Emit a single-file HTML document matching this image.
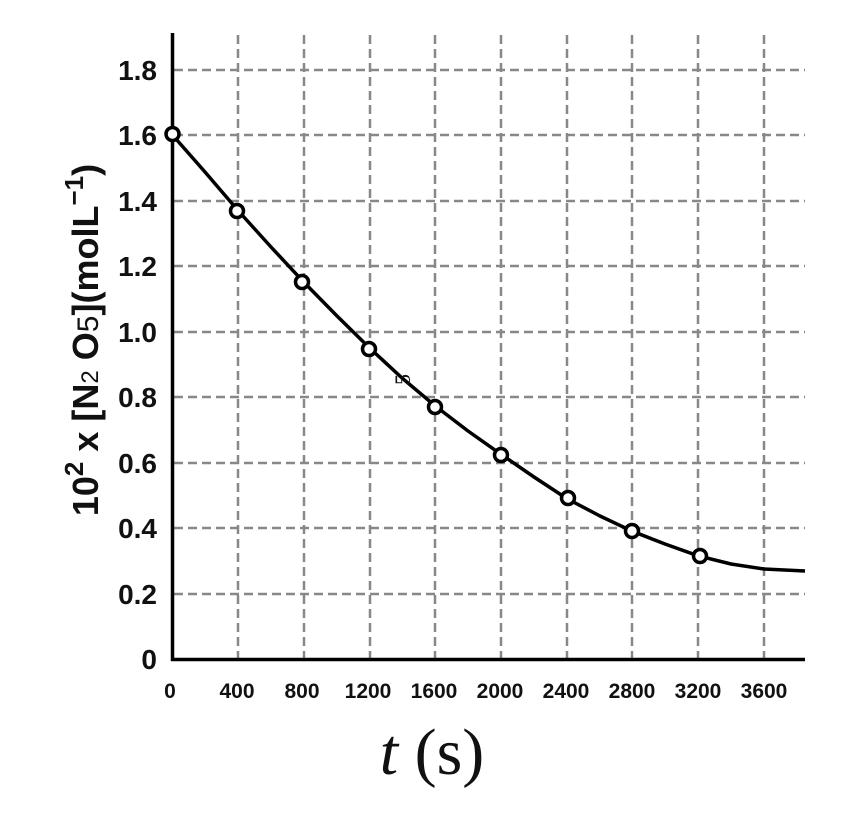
<!DOCTYPE html>
<html><head><meta charset="utf-8"><style>
html,body{margin:0;padding:0;background:#fff;}
</style></head><body>
<svg width="858" height="816" xmlns="http://www.w3.org/2000/svg" style="display:block">
<g stroke="#888" stroke-width="2.5" stroke-dasharray="9,5" fill="none">
<line x1="238" y1="35" x2="238" y2="659"/>
<line x1="304" y1="35" x2="304" y2="659"/>
<line x1="370" y1="35" x2="370" y2="659"/>
<line x1="435" y1="35" x2="435" y2="659"/>
<line x1="501" y1="35" x2="501" y2="659"/>
<line x1="567" y1="35" x2="567" y2="659"/>
<line x1="632" y1="35" x2="632" y2="659"/>
<line x1="698" y1="35" x2="698" y2="659"/>
<line x1="764" y1="35" x2="764" y2="659"/>
<line x1="174" y1="70" x2="805" y2="70"/>
<line x1="174" y1="135" x2="805" y2="135"/>
<line x1="174" y1="201" x2="805" y2="201"/>
<line x1="174" y1="266" x2="805" y2="266"/>
<line x1="174" y1="332" x2="805" y2="332"/>
<line x1="174" y1="397" x2="805" y2="397"/>
<line x1="174" y1="463" x2="805" y2="463"/>
<line x1="174" y1="528" x2="805" y2="528"/>
<line x1="174" y1="594" x2="805" y2="594"/>
</g>
<polyline fill="none" stroke="#000" stroke-width="3.5" stroke-linejoin="round" points="172.5,135 205,172 238,210.5 271,247 304,282.4 337,316 369.6,348 402,378 435.3,406 468,431 501,454.3 534,477 566.7,498.5 600,516 632.4,531.3 665,544 698.1,555.8 731,564 764,569 805,571"/>
<line x1="172.5" y1="33" x2="172.5" y2="661" stroke="#000" stroke-width="3.5"/>
<line x1="171" y1="659.5" x2="805" y2="659.5" stroke="#000" stroke-width="3.5"/>
<g fill="#fff" stroke="#000" stroke-width="3.5">
<circle cx="172.5" cy="134" r="6.5"/>
<circle cx="237" cy="211" r="6.5"/>
<circle cx="302" cy="282" r="6.5"/>
<circle cx="369" cy="349" r="6.5"/>
<circle cx="435" cy="407" r="6.5"/>
<circle cx="501" cy="455" r="6.5"/>
<circle cx="568" cy="498" r="6.5"/>
<circle cx="632" cy="531" r="6.5"/>
<circle cx="700" cy="556" r="6.5"/>
</g>
<g font-family="Liberation Sans, sans-serif" font-size="28" font-weight="bold" fill="#111" text-anchor="end">
<text x="157" y="80">1.8</text>
<text x="157" y="145">1.6</text>
<text x="157" y="211">1.4</text>
<text x="157" y="276">1.2</text>
<text x="157" y="342">1.0</text>
<text x="157" y="407">0.8</text>
<text x="157" y="473">0.6</text>
<text x="157" y="538">0.4</text>
<text x="157" y="604">0.2</text>
<text x="157" y="669">0</text>
</g>
<g font-family="Liberation Sans, sans-serif" font-size="21" font-weight="bold" fill="#111" text-anchor="middle">
<text x="170" y="698">0</text>
<text x="237" y="698">400</text>
<text x="302" y="698">800</text>
<text x="368" y="698">1200</text>
<text x="434" y="698">1600</text>
<text x="500" y="698">2000</text>
<text x="566" y="698">2400</text>
<text x="632" y="698">2800</text>
<text x="698" y="698">3200</text>
<text x="764" y="698">3600</text>
</g>
<text x="432" y="774" font-family="Liberation Serif, serif" font-size="66" text-anchor="middle" fill="#111"><tspan font-style="italic">t</tspan> (s)</text>
<text transform="translate(98,340) rotate(-90)" font-family="Liberation Sans, sans-serif" font-size="36" font-weight="bold" text-anchor="middle" fill="#111">10<tspan font-size="26" dy="-15">2</tspan><tspan dy="15"> x [N</tspan><tspan font-size="24" font-weight="normal">2</tspan> O<tspan font-size="30" font-weight="normal">5</tspan>](molL<tspan font-size="26" dy="-15">−1</tspan><tspan dy="15">)</tspan></text>
<text transform="translate(410,385) rotate(-90)" font-family="Liberation Serif, serif" font-size="22" fill="#111">5</text>
</svg>
</body></html>
